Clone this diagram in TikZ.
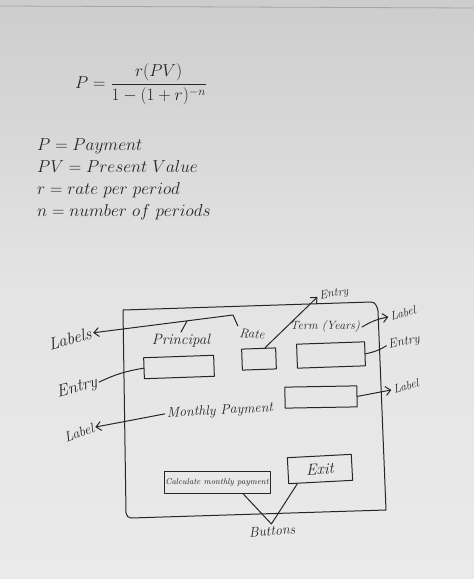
\documentclass[tikz,border=0pt]{standalone}
\usetikzlibrary{arrows.meta}
\definecolor{ink}{RGB}{38,38,38}
\definecolor{bgtop}{RGB}{205,205,205}
\definecolor{bgmid}{RGB}{228,228,228}
\definecolor{bgbot}{RGB}{234,234,234}
\begin{document}
\begin{tikzpicture}[x=1pt,y=-1pt,
  pen/.style={draw=ink, line width=1pt, line cap=round, line join=round},
  arr/.style={pen, -{Straight Barb[length=5pt,width=9pt]}},
  hand/.style={text=ink, inner sep=2pt, font=\itshape\fontsize{#1}{#1}\selectfont},
  hand/.default=13,
  fld/.style={pen, inner sep=0pt, minimum width=#1},
  defn/.style={text=ink, inner sep=0pt, font=\fontsize{17}{17}\selectfont, anchor=base west},
  formula/.style={text=ink, inner sep=0pt, font=\fontsize{17}{17}\selectfont}
]
\useasboundingbox (0,0) rectangle (474,579);
\shade[top color=bgtop, bottom color=bgbot, middle color=bgmid] (0,0) rectangle (474,579);
\draw[gray!70, line width=0.8pt] (0,6) -- (474,8);

% formula
\node[formula] (pay) at (141,84) {$\displaystyle P=\frac{r(PV)}{1-(1+r)^{-n}}$};

% definitions
\node[defn] (d1) at (37,150) {$P=Payment$};
\node[defn] (d2) at (37,172) {$PV=Present\ Value$};
\node[defn] (d3) at (37,194) {$r=rate\ per\ period$};
\node[defn] (d4) at (37,216) {$n=number\ of\ periods$};

% window frame
\draw[pen] (123,310) -- (371,302) to[out=0,in=100] (378,311) -- (386,510)
  -- (131,518) to[out=180,in=-85] (126,513) -- cycle;

% text labels inside the window
\node[hand=15] (principal) at (181,341) {Principal};
\node[hand=13, rotate=-5] (rate) at (252,334) {Rate};
\node[hand=12] (term) at (325,327) {Term (Years)};
\node[hand=14, rotate=3] (mp) at (220,411) {Monthly Payment};

% fields
\node[fld=70pt, minimum height=21pt, rotate=2] (prinbox) at (179,367) {};
\node[fld=34pt, minimum height=21pt, rotate=2] (ratebox) at (259,359) {};
\node[fld=68pt, minimum height=24pt, rotate=2] (termbox) at (331,355) {};
\node[fld=72pt, minimum height=21pt, rotate=1] (paybox) at (321,397) {};

% buttons
\node[fld=106pt, minimum height=22pt, font=\itshape\fontsize{8.5}{8.5}\selectfont, text=ink] (calcbtn) at (217,482) {Calculate monthly payment};
\node[fld=64pt, minimum height=26pt, rotate=3, font=\itshape\fontsize{16}{16}\selectfont, text=ink] (exitbtn) at (320,469) {Exit};

% annotations outside
\node[hand=17, rotate=15] (labels) at (70,339) {Labels};
\node[hand=17, rotate=15] (entryL) at (77,388) {Entry};
\node[hand=14, rotate=20] (lblC) at (79,433) {Label};
\node[hand=12, rotate=10] (entryT) at (334,294) {Entry};
\node[hand=12, rotate=15] (lblA) at (403,313) {Label};
\node[hand=13, rotate=12] (entryR) at (404,342) {Entry};
\node[hand=12, rotate=15] (lblB) at (406,386) {Label};
\node[hand=14, rotate=5] (buttons) at (272,531) {Buttons};

% connectors
\coordinate (brk) at (233,315);
\coordinate (tick) at (187,321);
\draw[arr] (rate.north west) -- (brk) -- (labels.east);
\draw[pen] (tick) -- (principal.north);
\draw[arr] (ratebox.60) -- (entryT.west);
\draw[arr] (term.east) to[bend left=10] (lblA.west);
\draw[pen] (termbox.east) to[bend right=10] (entryR.west);
\draw[arr] (paybox.east) -- (lblB.west);
\draw[pen] (entryL.east) to[bend left=8] (prinbox.west);
\draw[arr] (mp.west) -- (lblC.east);
\draw[pen] (calcbtn.-24) -- (buttons.north) -- (exitbtn.-150);
\end{tikzpicture}
\end{document}
